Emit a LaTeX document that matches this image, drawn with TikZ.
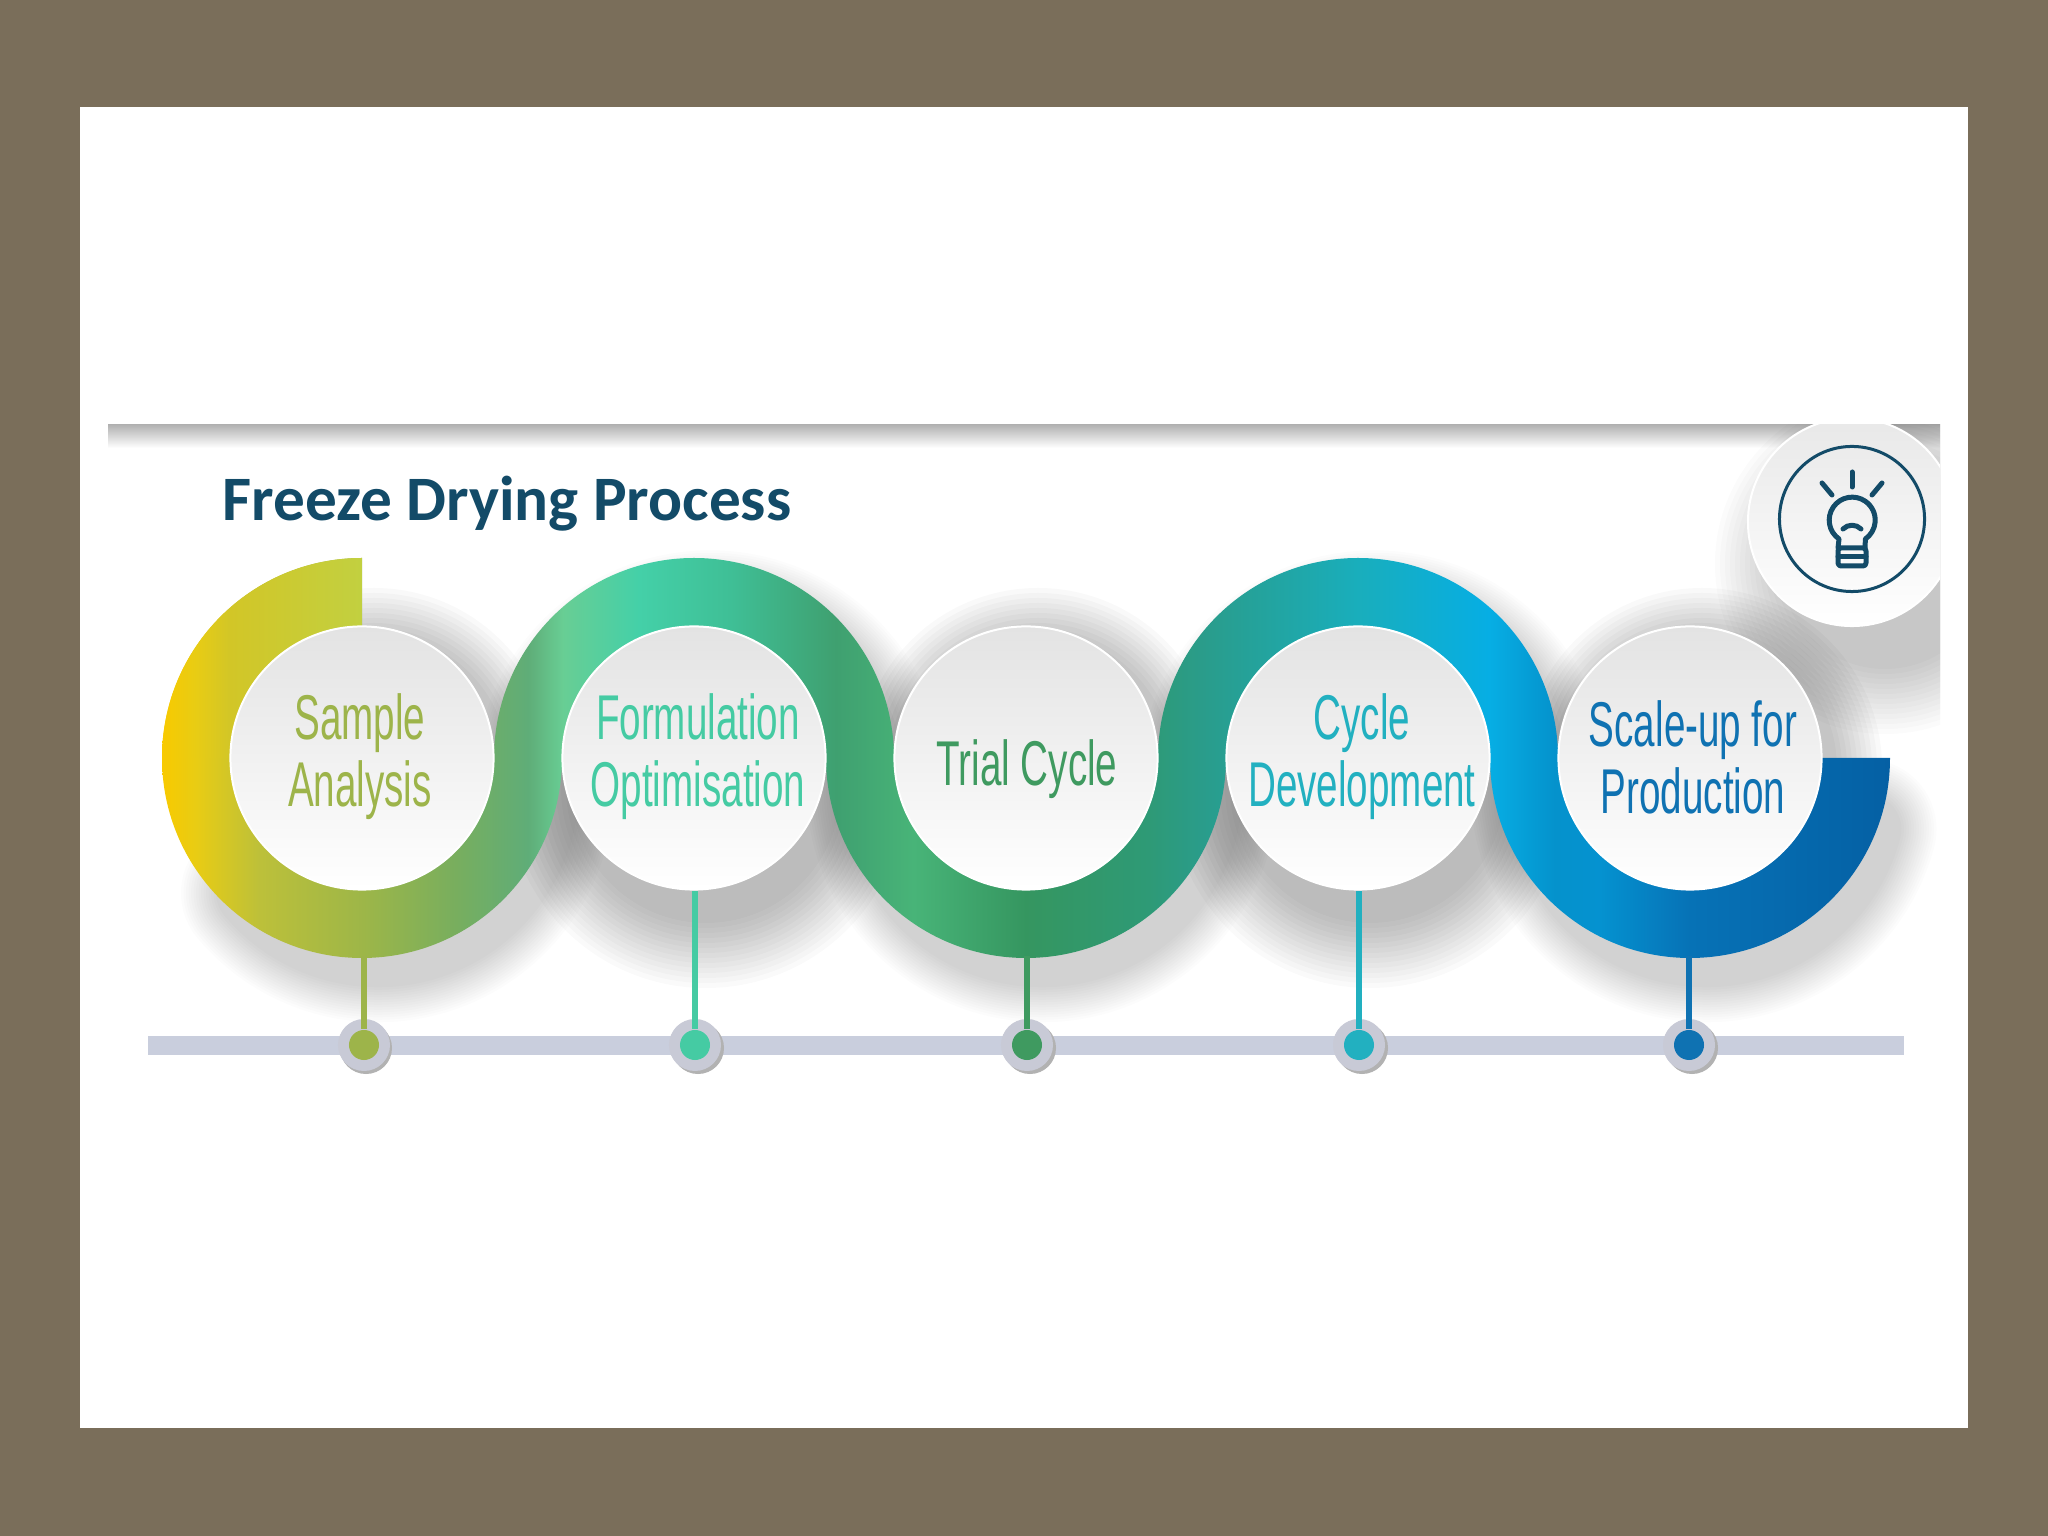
\documentclass[tikz,border=0pt]{standalone}
\usepackage{fontspec}
\usepackage{tikz}
\newfontfamily\stepfont[FakeStretch=0.61]{Liberation Sans}
\newfontfamily\titlefont{Carlito}

\definecolor{frameolive}{HTML}{7A6E5A}
\definecolor{titleblue}{HTML}{134B68}
\definecolor{barblue}{HTML}{C9CEDD}
\definecolor{halogrey}{HTML}{C8CAD6}
\definecolor{stepa}{HTML}{9DB44A}
\definecolor{stepb}{HTML}{45CBA3}
\definecolor{stepc}{HTML}{3F9A60}
\definecolor{stepd}{HTML}{22B0C0}
\definecolor{stepe}{HTML}{0F72B2}

\definecolor{ra}{HTML}{F8CA00}
\definecolor{rb}{HTML}{E8CC14}
\definecolor{rc}{HTML}{BCC03A}
\definecolor{rd}{HTML}{9DB648}
\definecolor{re}{HTML}{78AE5E}
\definecolor{rf}{HTML}{5FAD78}
\definecolor{rg}{HTML}{68CE94}
\definecolor{rh}{HTML}{44D0A8}
\definecolor{ri}{HTML}{3FBF96}
\definecolor{rj}{HTML}{3FA070}
\definecolor{rk}{HTML}{48B478}
\definecolor{rl}{HTML}{359660}
\definecolor{rm}{HTML}{2E9A76}
\definecolor{rn}{HTML}{2A9C8A}
\definecolor{ro}{HTML}{19AEBC}
\definecolor{rp}{HTML}{06AEE4}
\definecolor{rq}{HTML}{0592CC}
\definecolor{rr}{HTML}{0592D0}
\definecolor{rs}{HTML}{0672B6}
\definecolor{rt}{HTML}{0560A4}
\definecolor{rmix}{HTML}{D2C627}
\definecolor{rtop}{HTML}{C2D040}

\pgfdeclarehorizontalshading{ribbonshade}{100bp}{color(0bp)=(ra); color(25bp)=(ra); color(26bp)=(rb);
  color(27.85bp)=(rc); color(30.83bp)=(rd); color(33.5bp)=(re); color(35.6bp)=(rf); color(36.6bp)=(rg);
  color(38.8bp)=(rh); color(41.45bp)=(ri); color(44.5bp)=(rj); color(46.75bp)=(rk); color(50bp)=(rl);
  color(53.55bp)=(rm); color(55.06bp)=(rn); color(59.6bp)=(ro); color(63.4bp)=(rp); color(65.3bp)=(rq);
  color(66.6bp)=(rr); color(69.2bp)=(rs); color(75bp)=(rt); color(100bp)=(rt)}
\pgfdeclarehorizontalshading{ribbontop}{100bp}{color(0bp)=(ra); color(25bp)=(ra); color(33.5bp)=(rb);
  color(42bp)=(rmix); color(75bp)=(rtop); color(100bp)=(rtop)}

\tikzset{
  ribbonband/.style={insert path={(362,978) arc[start angle=90,end angle=360,radius=200]
    arc[start angle=180,end angle=0,radius=132] arc[start angle=180,end angle=360,radius=200]
    arc[start angle=180,end angle=0,radius=132] arc[start angle=180,end angle=360,radius=200]
    -- ++(-68,0) arc[start angle=0,end angle=-180,radius=132] arc[start angle=0,end angle=180,radius=200]
    arc[start angle=0,end angle=-180,radius=132] arc[start angle=0,end angle=180,radius=200]
    arc[start angle=0,end angle=-270,radius=132] -- cycle}},
  ribbonline/.style={insert path={(235,671) arc[start angle=220,end angle=360,radius=166]
    arc[start angle=180,end angle=0,radius=166] arc[start angle=180,end angle=360,radius=166]
    arc[start angle=180,end angle=0,radius=166] arc[start angle=180,end angle=345,radius=166]}},
  disc/.style={circle,inner sep=0,minimum size=2.63cm,draw=white,line width=0.02cm,
    top color=black!11,bottom color=white},
  steptext/.style={align=center,inner sep=0,font=\stepfont\fontsize{18}{19}\selectfont},
  halo/.style={circle,inner sep=0,minimum size=0.52cm,fill=halogrey},
  haloshadow/.style={circle,inner sep=0,minimum size=0.52cm,fill=black!30},
  dot/.style={circle,inner sep=0,minimum size=0.3cm},
  stem/.style={line width=0.055cm},
  bulb/.style={draw=titleblue,line width=0.05cm,line cap=round,line join=round},
}

\begin{document}
\begin{tikzpicture}[x=0.01cm,y=0.01cm]
\useasboundingbox (0,0) rectangle (2048,1536);
\fill[frameolive] (0,0) rectangle (2048,1536);
\fill[white] (80,108) rectangle (1968,1429);

% top strip
\shade[top color=black!30,bottom color=white] (108,1088) rectangle (1940,1111);

\begin{scope}
\clip (108,108) rectangle (1940,1111);
% shadows
\foreach \cx in {362,1026,1690}
  \foreach \rr in {135,140,...,180}
    \fill[black,opacity=.024] (\cx+12,768) circle[radius=\rr];
\foreach \cx in {694,1358}
  \foreach \rr in {135,140,...,200}
    \fill[black,opacity=.02] (\cx+12,748) circle[radius=\rr];
\foreach \rr in {105,110,...,170}
  \fill[black,opacity=.016] (1885,972) circle[radius=\rr];
\foreach \w in {70,75,...,140}
  \draw[black,opacity=.012,line width=\w*0.01cm,line cap=round,shift={(16,-28)},ribbonline];

\node[circle,inner sep=0,minimum size=2.08cm,draw=white,line width=0.02cm,
  top color=black!9,bottom color=white] (icon) at (1852,1014) {};
\end{scope}

% bulb
\node[circle,inner sep=0,minimum size=1.45cm,draw=titleblue,line width=0.03cm] (iconring) at (1852,1017) {};
\draw[bulb] (1852,1064) -- (1852,1049);
\draw[bulb] (1822,1053) -- (1832,1041);
\draw[bulb] (1882,1053) -- (1872,1041);
\draw[bulb] (1838,988) -- (1839,997) arc[start angle=235,end angle=-55,radius=23] -- (1865,988);
\draw[bulb,rounded corners=0.03cm] (1838,988) rectangle (1866,970);
\draw[bulb] (1838,979) -- (1866,979);
\draw[bulb] (1843,1007) .. controls (1848,1012) and (1856,1012) .. (1861,1007);

\node[font=\titlefont\bfseries\fontsize{18}{20}\selectfont,text=titleblue,anchor=base west,inner sep=0] (title) at (222,1015) {Freeze Drying Process};

% bar and dots
\fill[barblue] (148,481) rectangle (1904,500);

\node[haloshadow] at (366,488) {};
\node[haloshadow] at (698,488) {};
\node[haloshadow] at (1030,488) {};
\node[haloshadow] at (1362,488) {};
\node[haloshadow] at (1692,488) {};

\node[halo] (h1) at (364,491) {};
\node[halo] (h2) at (695,491) {};
\node[halo] (h3) at (1027,491) {};
\node[halo] (h4) at (1359,491) {};
\node[halo] (h5) at (1689,491) {};

\node[dot,fill=stepa] (d1) at (364,491) {};
\node[dot,fill=stepb] (d2) at (695,491) {};
\node[dot,fill=stepc] (d3) at (1027,491) {};
\node[dot,fill=stepd] (d4) at (1359,491) {};
\node[dot,fill=stepe] (d5) at (1689,491) {};

% ribbon and discs
\shade[shading=ribbonshade,ribbonband];
\shade[shading=ribbontop] (362,978) arc[start angle=90,end angle=180,radius=200]
  -- ++(68,0) arc[start angle=180,end angle=90,radius=132] -- cycle;

\node[disc] (c1) at (362,778) {};
\node[disc] (c2) at (694,778) {};
\node[disc] (c3) at (1026,778) {};
\node[disc] (c4) at (1358,778) {};
\node[disc] (c5) at (1690,778) {};

\coordinate (f1) at (364,580);
\coordinate (f3) at (1027,580);
\coordinate (f5) at (1689,580);

\draw[stem,stepa] (f1) -- (d1);
\draw[stem,stepb] (c2) ++(1,-133) -- (d2);
\draw[stem,stepc] (f3) -- (d3);
\draw[stem,stepd] (c4) ++(1,-133) -- (d4);
\draw[stem,stepe] (f5) -- (d5);

\node[steptext,text=stepa] (t1) at (360,779) {Sample\\Analysis};
\node[steptext,text=stepb] (t2) at (698,779) {Formulation\\Optimisation};
\node[steptext,text=stepc] (t3) at (1027,767) {Trial Cycle};
\node[steptext,text=stepd] (t4) at (1362,779) {Cycle\\Development};
\node[steptext,text=stepe] (t5) at (1693,779) {Scale-up for\\Production};
\end{tikzpicture}
\end{document}
